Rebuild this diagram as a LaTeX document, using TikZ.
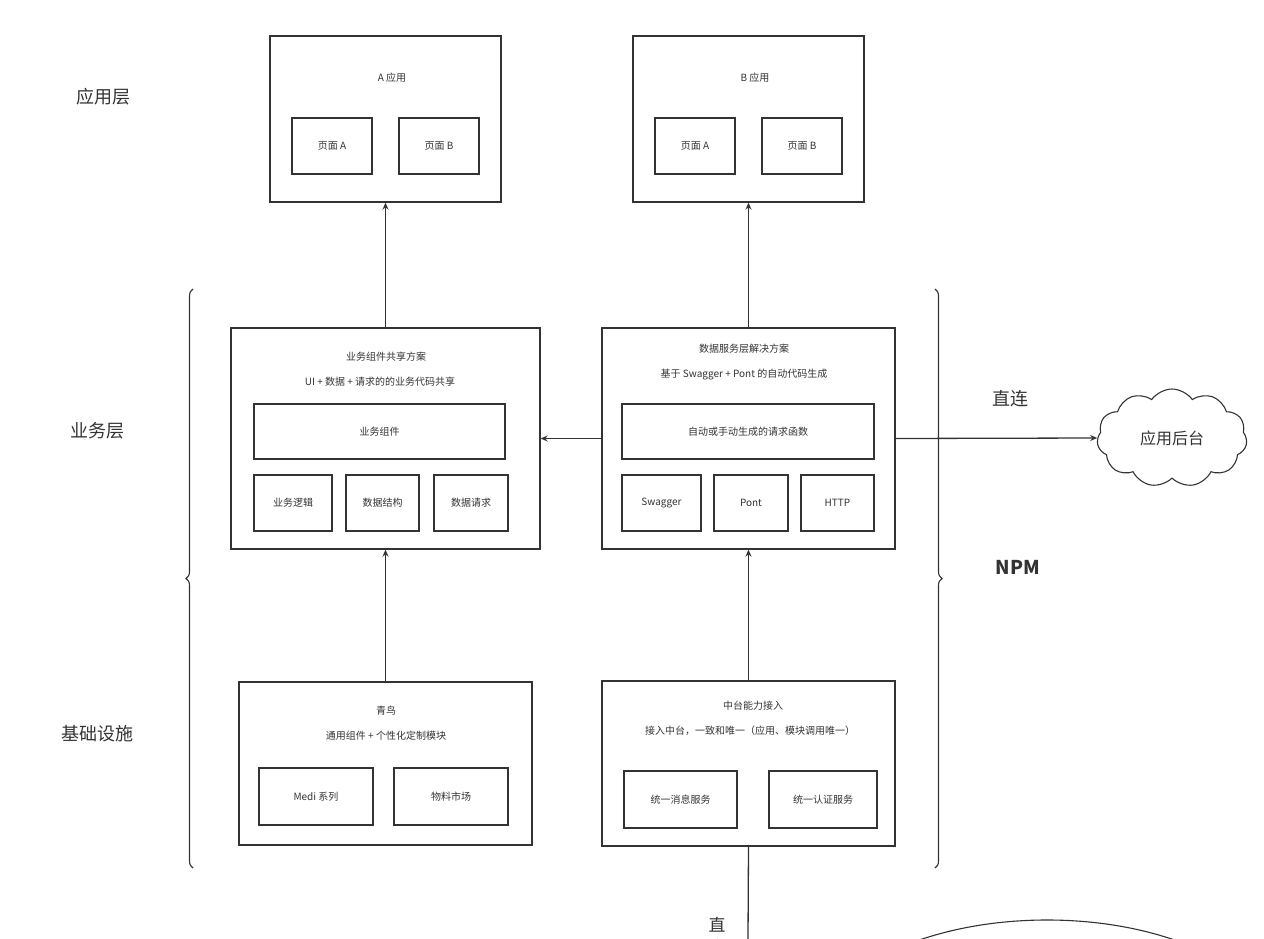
\documentclass[tikz,border=0pt]{standalone}
\usepackage{fontspec}
\setmainfont{Noto Sans CJK SC}
\usetikzlibrary{arrows.meta,shapes.symbols,shapes.geometric,decorations.pathreplacing}
\definecolor{ln}{HTML}{333333}
\begin{document}
\begin{tikzpicture}[x=1pt,y=-1pt,
  bx/.style={draw=ln,line width=1.3pt},
  ib/.style={draw=ln,line width=1.1pt},
  t/.style={font=\fontsize{10}{12}\selectfont,text=ln},
  big/.style={font=\fontsize{18}{20}\selectfont,text=ln},
  ar/.style={draw=ln,line width=1.3pt,-{Stealth[length=7pt,width=6pt]}},
  br/.style={draw=ln,line width=1.1pt,decorate,decoration={brace,amplitude=7pt}}]
\useasboundingbox (0,0) rectangle (1264,939);
\clip (0,0) rectangle (1264,939);
% app layer
\node[bx,minimum width=231pt,minimum height=166pt] (A) at (385.5,119) {};
\node[t] (At) at (392,78) {A 应用};
\node[ib,minimum width=80pt,minimum height=56pt,t] (Aa) at (332,146) {页面 A};
\node[ib,minimum width=80pt,minimum height=56pt,t] (Ab) at (439,146) {页面 B};
\node[bx,minimum width=231pt,minimum height=166pt] (B) at (748.5,119) {};
\node[t] (Bt) at (755,78) {B 应用};
\node[ib,minimum width=80pt,minimum height=56pt,t] (Ba) at (695,146) {页面 A};
\node[ib,minimum width=80pt,minimum height=56pt,t] (Bb) at (802,146) {页面 B};
% business layer
\node[bx,minimum width=309pt,minimum height=221pt] (L) at (385.5,438.5) {};
\node[t] (Lt1) at (386,357) {业务组件共享方案};
\node[t] (Lt2) at (380,382) {UI + 数据 + 请求的的业务代码共享};
\node[ib,minimum width=251pt,minimum height=55pt,t] (Lc) at (379.5,431.5) {业务组件};
\node[ib,minimum width=78pt,minimum height=56pt,t] (L1) at (293,503) {业务逻辑};
\node[ib,minimum width=73pt,minimum height=56pt,t] (L2) at (382.5,503) {数据结构};
\node[ib,minimum width=74pt,minimum height=56pt,t] (L3) at (471,503) {数据请求};
\node[bx,minimum width=293pt,minimum height=221pt] (R) at (748.5,438.5) {};
\node[t] (Rt1) at (744,349) {数据服务层解决方案};
\node[t] (Rt2) at (744,375) {基于 Swagger + Pont 的自动代码生成};
\node[ib,minimum width=252pt,minimum height=55pt,t] (Rc) at (748,431.5) {自动或手动生成的请求函数};
\node[ib,minimum width=79pt,minimum height=56pt,t] (R1) at (661.5,503) {Swagger};
\node[ib,minimum width=74pt,minimum height=56pt,t] (R2) at (751,503) {Pont};
\node[ib,minimum width=73pt,minimum height=56pt,t] (R3) at (837.5,503) {HTTP};
% infrastructure
\node[bx,minimum width=293pt,minimum height=163pt] (Q) at (385.5,763.5) {};
\node[t] (Qt1) at (386,711) {青鸟};
\node[t] (Qt2) at (386,736) {通用组件 + 个性化定制模块};
\node[ib,minimum width=114pt,minimum height=57pt,t] (Q1) at (316,796.5) {Medi 系列};
\node[ib,minimum width=114pt,minimum height=57pt,t] (Q2) at (451,796.5) {物料市场};
\node[bx,minimum width=293pt,minimum height=165pt] (Z) at (748.5,763.5) {};
\node[t] (Zt1) at (753,706) {中台能力接入};
\node[t] (Zt2) at (750,731) {接入中台，一致和唯一（应用、模块调用唯一）};
\node[ib,minimum width=113pt,minimum height=57pt,t] (Z1) at (680.5,799.5) {统一消息服务};
\node[ib,minimum width=108pt,minimum height=57pt,t] (Z2) at (823,799.5) {统一认证服务};
% cloud
\node[cloud,draw=ln,line width=1.1pt,cloud puffs=11,cloud puff arc=110,aspect=1.6,minimum width=150pt,minimum height=98pt,font=\fontsize{16}{18}\selectfont,text=ln] (C) at (1172,438) {应用后台};
% arrows
\draw[ar] (L.north -| A.south) -- (A.south);
\draw[ar] (R.north -| B.south) -- (B.south);
\draw[ar] (R.west) -- (L.east);
\draw[ar] (R.east) -- (C.west);
\draw[ar] (Q.north) -- (L.south);
\draw[ar] (Z.north) -- (R.south);
\coordinate (bot) at (748,939);
\draw[draw=ln,line width=1.3pt] (Z.south) -- (bot);
% braces
\coordinate (lb1) at (193,868); \coordinate (lb2) at (193,289);
\coordinate (rb1) at (935,289); \coordinate (rb2) at (935,868);
\draw[br] (lb1) -- (lb2);
\draw[br] (rb1) -- (rb2);
% labels
\node[big] (l1) at (103,97) {应用层};
\node[big] (l2) at (97,431) {业务层};
\node[big] (l3) at (97,734) {基础设施};
\node[big] (l4) at (1010,399) {直连};
\node[big,font=\fontsize{19}{21}\selectfont\bfseries] (l5) at (1018,567) {NPM};
\node[big,align=center,font=\fontsize{17}{22}\selectfont] (l6) at (717,936) {直\\连};
% ellipse
\node[draw=ln,line width=1.1pt,ellipse,minimum width=470pt,minimum height=250pt] (E) at (1047,1045) {};
\end{tikzpicture}
\end{document}
